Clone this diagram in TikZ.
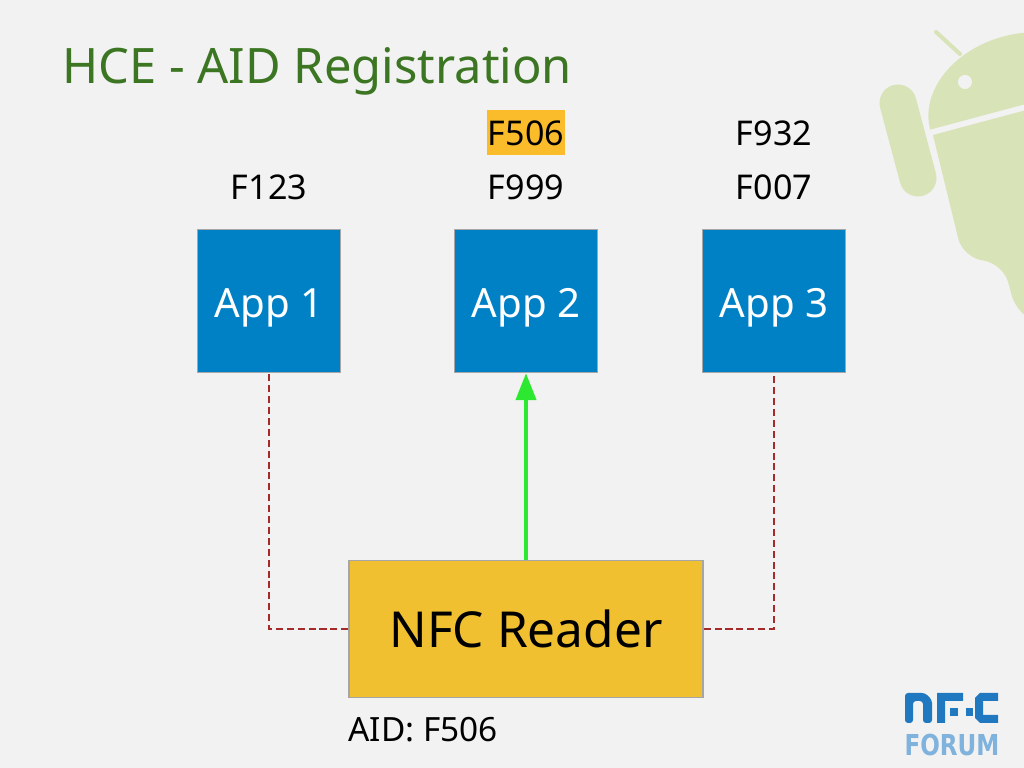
\documentclass[tikz,border=0pt]{standalone}
\usepackage{fontspec}
\setmainfont{Noto Sans}
\newfontfamily\logofont{DejaVu Sans}
\usetikzlibrary{arrows.meta,positioning}
\definecolor{slidebg}{HTML}{F2F2F2}
\definecolor{titlegreen}{HTML}{3C7623}
\definecolor{appblue}{HTML}{0081C6}
\definecolor{readeryellow}{HTML}{F0C030}
\definecolor{hilite}{HTML}{FBBC2C}
\definecolor{linkred}{HTML}{A52A2A}
\definecolor{linkgreen}{HTML}{2DE830}
\definecolor{droid}{HTML}{D8E3B8}
\definecolor{nfcblue}{HTML}{1F78C0}
\definecolor{forumblue}{HTML}{7FB2DC}
\tikzset{
	appbox/.style={draw=gray!70, line width=0.8pt, fill=appblue, text=white, minimum size=2.86cm, inner sep=0pt, text height=0.66cm, text depth=0pt, font=\fontsize{22.9}{26}\selectfont},
	readerbox/.style={draw=gray!70, line width=0.8pt, fill=readeryellow, minimum width=7.08cm, minimum height=2.74cm, inner sep=0pt, font=\fontsize{28.2}{32}\selectfont},
	aidlabel/.style={inner sep=0pt, minimum width=1.56cm, minimum height=0.9cm, font=\fontsize{19.4}{22}\selectfont},
	deadlink/.style={draw=linkred, line width=0.8pt, dash pattern=on 4pt off 2.2pt},
	livelink/.style={draw=linkgreen, line width=2.4pt, -{Triangle[width=0.4cm,length=0.54cm]}}
}
\begin{document}
\begin{tikzpicture}
	\useasboundingbox[fill=slidebg] (0,0) rectangle (20.48,15.36);

	% android in the corner
	\begin{scope}
		\clip (0,0) rectangle (20.48,15.36);
		\begin{scope}[shift={(20.44,13.26)}, rotate=15]
			\fill[droid] (-1.9,0) arc[start angle=180, end angle=0, x radius=1.9, y radius=1.42] -- cycle;
		\end{scope}
		\draw[droid, line width=0.08cm, line cap=round] (18.72,14.72) -- (19.2,14.28);
		\fill[slidebg] (19.3,13.72) circle (0.14);
		\draw[droid, line width=0.74cm, line cap=round] (17.96,13.3) -- (18.36,11.8);
		\fill[droid] (21.5,13.42) -- (18.66,12.66) [rounded corners=0.4cm] -- (19.26,10.2) -- (20.06,10.1) -- (20.34,9.06) -- (21,8.8) [sharp corners] -- (21.5,8.8) -- cycle;
	\end{scope}

	\node[anchor=west, inner sep=0pt, text=titlegreen, font=\fontsize{27.8}{34}\selectfont] (title) at (1.24,13.94) {HCE - AID Registration};

	\node[appbox] (app1) at (5.38,9.34) {App 1};
	\node[appbox] (app2) at (10.52,9.34) {App 2};
	\node[appbox] (app3) at (15.48,9.34) {App 3};
	\node[readerbox] (reader) at (10.52,2.78) {NFC Reader};

	\node[aidlabel] (f123) at (5.38,11.62) {F123};
	\node[aidlabel] (f999) at (10.52,11.62) {F999};
	\node[aidlabel, fill=hilite] (f506) at (10.52,12.7) {F506};
	\node[aidlabel] (f007) at (15.48,11.62) {F007};
	\node[aidlabel] (f932) at (15.48,12.7) {F932};
	\node[below=0.38cm of reader.south west, anchor=north west, inner sep=0pt, font=\fontsize{19}{23}\selectfont] (aid) {AID: F506};

	\draw[deadlink] (reader.west) -| (app1.south);
	\draw[deadlink] (reader.east) -| (app3.south);
	\draw[livelink] (reader.north) -- (app2.south);

	% nfc forum logo
	\fill[nfcblue, rounded corners=0.06cm] (18.1,0.9) -- (18.1,1.5) -- (18.5,1.5) -- (18.64,1.36) -- (18.64,0.9) -- (18.46,0.9) -- (18.46,1.34) -- (18.26,1.34) -- (18.26,0.9) -- cycle;
	\fill[nfcblue] (18.74,0.9) -- (18.74,1.5) -- (19.26,1.5) -- (19.26,1.34) -- (18.9,1.34) -- (18.9,0.9) -- cycle;
	\fill[nfcblue] (19.0,1.04) rectangle (19.16,1.2);
	\fill[nfcblue] (19.32,1.04) rectangle (19.46,1.2);
	\fill[nfcblue] (19.5,1.4) -- (19.6,1.5) -- (19.96,1.5) -- (19.96,1.34) -- (19.66,1.34) -- (19.66,1.06) -- (19.96,1.06) -- (19.96,0.9) -- (19.6,0.9) -- (19.5,1) -- cycle;
	\node[inner sep=0pt, text=forumblue, transform shape, xscale=0.8, font=\fontsize{16.4}{18}\logofont\selectfont\bfseries] (forum) at (19.04,0.45) {FORUM};
\end{tikzpicture}
\end{document}
